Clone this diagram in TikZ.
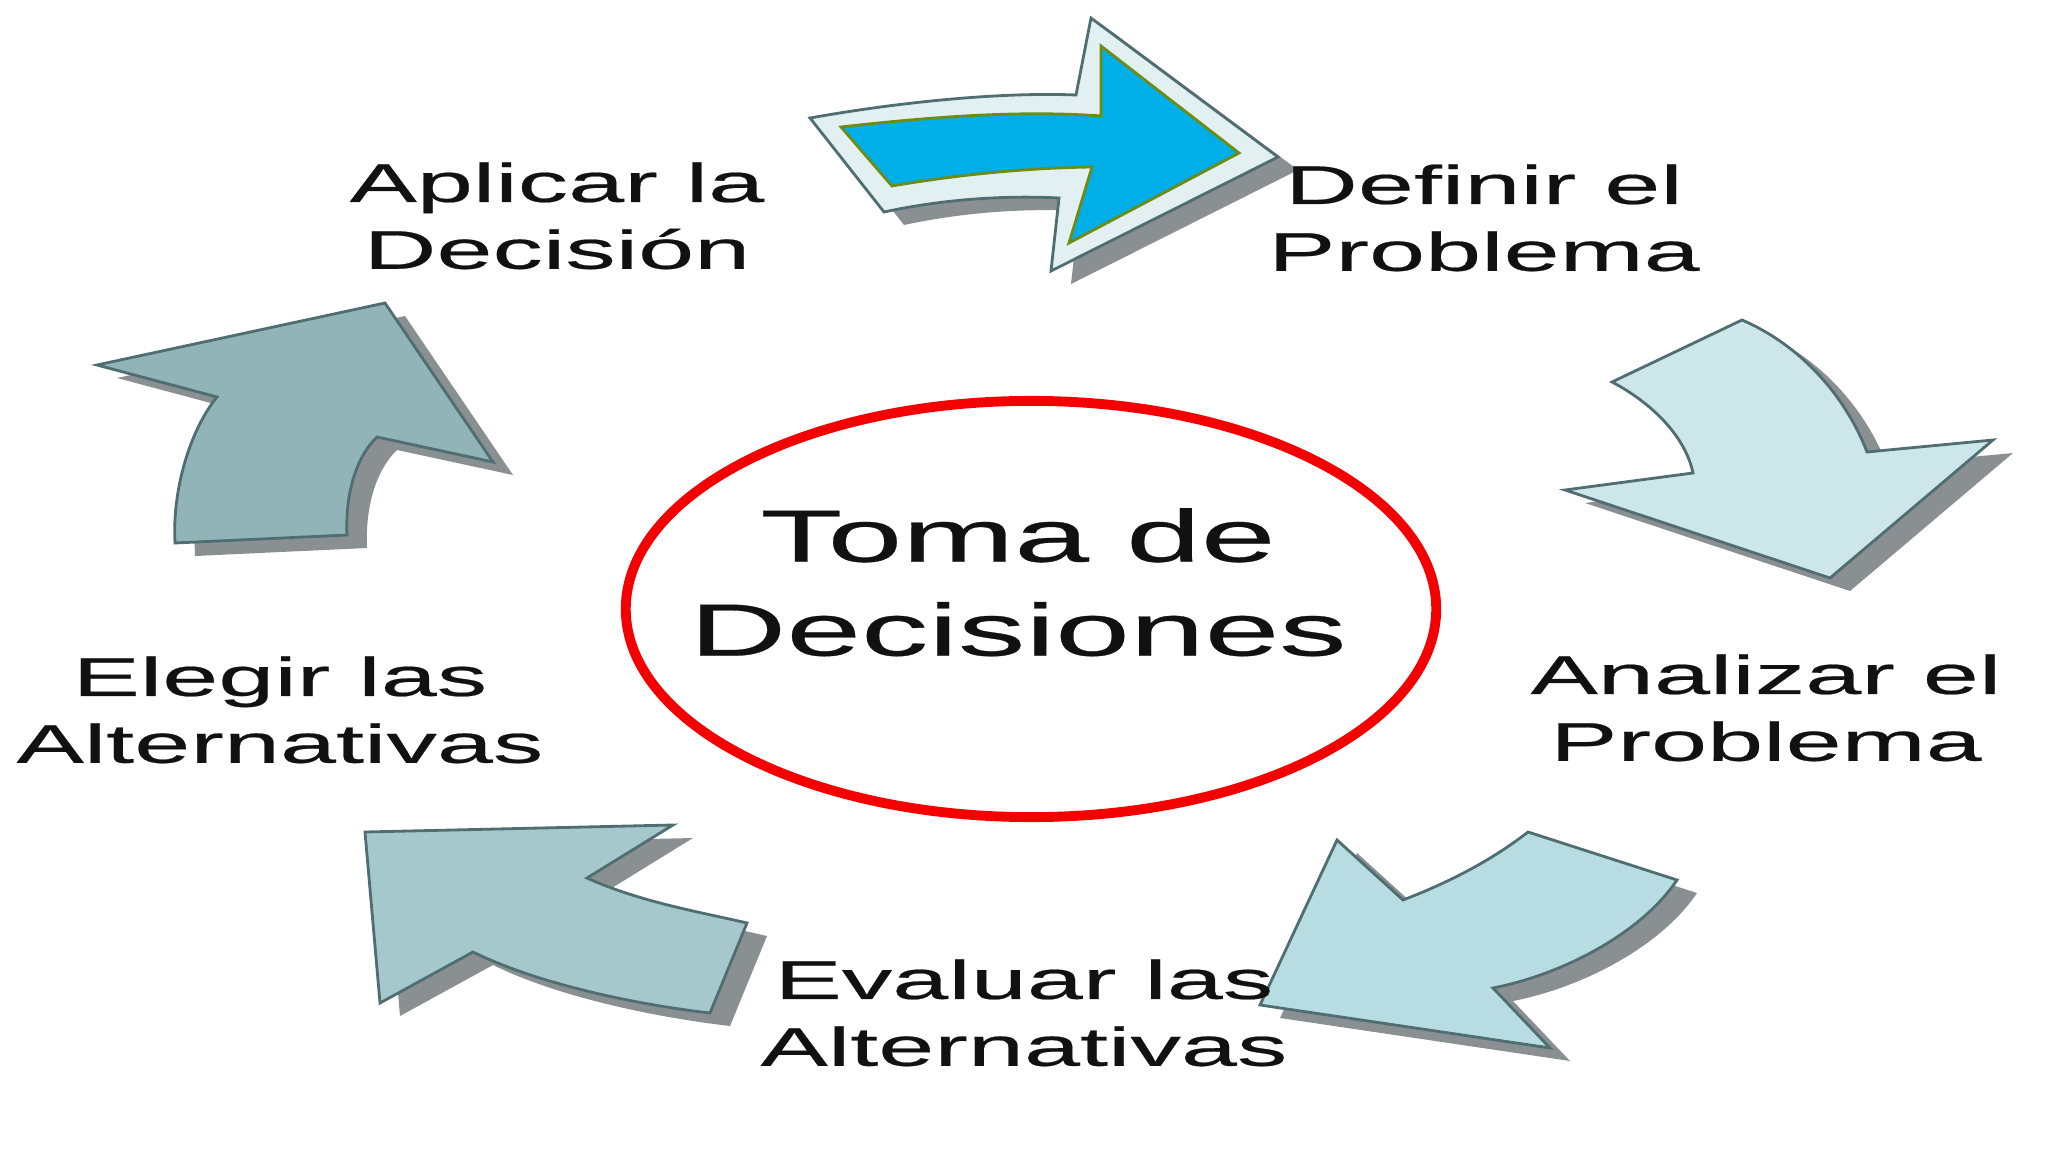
\documentclass[tikz,border=0pt]{standalone}
\usepackage{fontspec}
\usetikzlibrary{shapes.geometric}
\newfontfamily\etiqfont[FakeStretch=1.85,FakeBold=0.4]{Liberation Sans}
\newfontfamily\centrofont[FakeStretch=1.82,FakeBold=0.4]{Liberation Sans}
\definecolor{rojo}{RGB}{245,0,0}
\definecolor{azul}{RGB}{0,174,232}
\definecolor{verde_borde}{RGB}{110,140,20}
\definecolor{borde}{RGB}{80,110,114}
\definecolor{sombra_gris}{RGB}{138,144,146}
\definecolor{claro_1}{RGB}{226,240,241}
\definecolor{claro_2}{RGB}{205,230,234}
\definecolor{claro_3}{RGB}{183,220,226}
\definecolor{medio_4}{RGB}{165,200,204}
\definecolor{medio_5}{RGB}{145,180,184}
\definecolor{texto}{RGB}{17,17,17}

\tikzset{
	flecha/.style={draw=borde,line width=0.8pt,fill=#1,
		preaction={fill=sombra_gris,transform canvas={xshift=2mm,yshift=-1.3mm}}},
	etiqueta/.style={font=\etiqfont\fontsize{15.5}{19}\selectfont,text=texto,
		align=center,inner sep=0pt,anchor=south},
}

\begin{document}
\begin{tikzpicture}[x=0.01cm,y=-0.01cm]
	\useasboundingbox (0,0) rectangle (2048,1152);

	% arrows of the cycle
	\draw[flecha=claro_1] (810,118) .. controls (900,102) and (1000,92) .. (1076,95) -- (1091,18)
		-- (1278,157) -- (1051,271) -- (1059,198) .. controls (1000,195) and (940,200) .. (884,212) -- cycle;
	\draw[draw=verde_borde,line width=0.8pt,fill=azul] (841,127) .. controls (930,117) and (1020,110) .. (1101,116)
		-- (1101,46) -- (1239,153) -- (1069,243) -- (1092,167) .. controls (1020,168) and (950,176) .. (892,186) -- cycle;
	\draw[flecha=claro_2] (1742,320) -- (1612,382) .. controls (1650,402) and (1685,435) .. (1693,473)
		-- (1565,490) -- (1830,578) -- (1993,440) -- (1867,452) .. controls (1845,395) and (1800,345) .. cycle;
	\draw[flecha=claro_3] (1337,840) -- (1403,900) .. controls (1450,882) and (1492,860) .. (1528,832)
		-- (1677,880) .. controls (1640,935) and (1560,975) .. (1493,988) -- (1550,1048) -- (1260,1005) -- cycle;
	\draw[flecha=medio_4] (365,832) -- (673,825) -- (587,878) .. controls (640,902) and (700,912) .. (747,923)
		-- (710,1013) .. controls (640,1005) and (540,985) .. (473,952) -- (380,1003) -- cycle;
	\draw[flecha=medio_5] (175,543) .. controls (172,490) and (190,430) .. (217,397) -- (97,365)
		-- (385,303) -- (493,462) -- (377,437) .. controls (358,455) and (345,490) .. (347,535) -- cycle;

	% centre
	\node[ellipse,draw=rojo,line width=2.8pt,minimum width=8.1cm,minimum height=4.16cm] (nucleo) at (1031,609) {};
	\node[font=\centrofont\fontsize{21}{26.7}\selectfont,text=texto,align=center,inner sep=0pt,anchor=south]
		(tema) at (1018,657) {Toma de\\Decisiones};

	% steps
	\node[etiqueta] (definir) at (1484,272) {Definir el\\Problema};
	\node[etiqueta] (analizar) at (1766,762) {Analizar el\\Problema};
	\node[etiqueta] (evaluar) at (1024,1067) {Evaluar las\\Alternativas};
	\node[etiqueta] (elegir) at (280,764) {Elegir las\\Alternativas};
	\node[etiqueta] (aplicar) at (557,270) {Aplicar la\\Decisión};
\end{tikzpicture}
\end{document}
